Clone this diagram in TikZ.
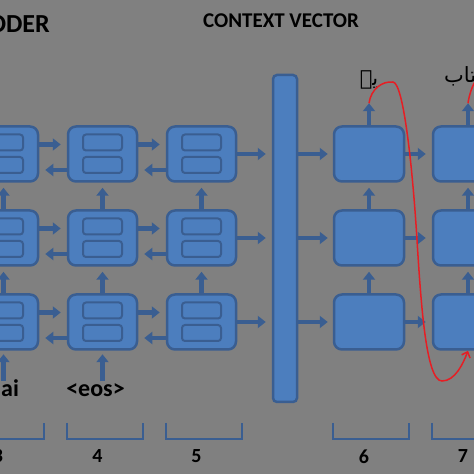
\documentclass[tikz,border=0pt]{standalone}
\usepackage{fontspec}
\setmainfont{Carlito}
\newfontfamily\arabicfont[Script=Arabic]{DejaVu Sans}
\TeXXeTstate=1
\usetikzlibrary{arrows.meta,calc}
\definecolor{bggray}{RGB}{128,128,128}
\definecolor{cellblue}{RGB}{76,126,190}
\definecolor{edgeblue}{RGB}{58,94,145}
\definecolor{linkred}{RGB}{230,30,36}

\begin{document}
\begin{tikzpicture}[x=1pt,y=1pt]
    \tikzstyle{cell}=[rectangle,rounded corners=8pt,draw=edgeblue,line width=2.5pt,fill=cellblue,minimum width=69pt,minimum height=55pt,inner sep=0pt]
    \tikzstyle{slot}=[rectangle,rounded corners=3pt,draw=edgeblue,line width=2pt,fill=cellblue,minimum width=39pt,minimum height=16pt,inner sep=0pt]
    \tikzstyle{flow}=[draw=edgeblue,line width=4.5pt,-{Triangle[width=12pt,length=8pt]}]
    \tikzstyle{link}=[draw=linkred,line width=1.5pt]
    \tikzstyle{brace}=[draw=edgeblue,line width=1.5pt]
    \tikzstyle{word}=[font=\bfseries\fontsize{24}{28}\selectfont,inner sep=0pt]
    \tikzstyle{idx}=[font=\bfseries\fontsize{20}{24}\selectfont,inner sep=0pt]
    \tikzstyle{urdu}=[font=\arabicfont\fontsize{21}{25}\selectfont,inner sep=0pt]

    \useasboundingbox (0,0) rectangle (474,474);
    \fill[bggray] (0,0) rectangle (474,474);

    \node[font=\bfseries\fontsize{26}{30}\selectfont,inner sep=0pt,anchor=east] (enc) at (50,450) {ENCODER};
    \node[font=\bfseries\fontsize{21}{25}\selectfont,inner sep=0pt] (ctx) at (281,453.5) {CONTEXT VECTOR};

    % encoder
    \foreach \c/\x in {3/3.5,4/102.5,5/201.5}
      \foreach \r/\y in {1/320,2/236,3/152} {
        \node[cell] (e\c\r) at (\x,\y) {};
        \node[slot] at (\x,\y+11.5) {};
        \node[slot] at (\x,\y-11) {};
      }
    % decoder
    \foreach \c/\x in {6/369,7/468}
      \foreach \r/\y in {1/320,2/236,3/152}
        \node[cell,minimum width=70pt] (d\c\r) at (\x,\y) {};

    \node[cell,rounded corners=4pt,minimum width=24pt,minimum height=327pt] (cv) at (285,235.5) {};

    \foreach \a/\b in {3/4,4/5}
      \foreach \r in {1,2,3} {
        \draw[flow,shorten >=6pt] ([yshift=9.5pt]e\a\r.east) -- ([yshift=9.5pt]e\b\r.west);
        \draw[flow,shorten >=6pt] ([yshift=-16pt]e\b\r.west) -- ([yshift=-16pt]e\a\r.east);
      }
    \foreach \c in {3,4,5} {
      \draw[flow,shorten >=5pt] (e\c3.north) -- (e\c2.south);
      \draw[flow,shorten >=5pt] (e\c2.north) -- (e\c1.south);
    }
    \foreach \c in {6,7} {
      \draw[flow,shorten >=5pt] (d\c3.north) -- (d\c2.south);
      \draw[flow,shorten >=5pt] (d\c2.north) -- (d\c1.south);
      \coordinate (o\c) at ($(d\c1.north)+(0,22)$);
      \draw[flow] (d\c1.north) -- (o\c);
    }
    \foreach \r in {1,2,3} {
      \draw[flow,shorten >=6pt] (e5\r.east) -- (e5\r.east -| cv.west);
      \draw[flow,shorten >=5pt] (d6\r.west -| cv.east) -- (d6\r.west);
      \draw[flow,shorten >=6pt] (d6\r.east) -- (d7\r.west);
    }

    % inputs
    \coordinate (i3) at ($(e33.south)+(0,-30.5)$);
    \coordinate (i4) at ($(e43.south)+(0,-30.5)$);
    \draw[flow,shorten >=3.5pt] (i3) -- (e33.south);
    \draw[flow,shorten >=3.5pt] (i4) -- (e43.south);
    \node[word,anchor=base west] (ai) at (1,77) {ai};
    \node[word,anchor=base] (eos) at (95.5,77) {<eos>};

    % outputs
    \node[urdu] (w6) at (369,394) {\beginR یہ\endR};
    \node[urdu,anchor=west] (w7) at (444,398) {\beginR کتاب\endR};
    \draw[link,-{Straight Barb[length=5pt,width=9pt]}] (o6) .. controls (371,385) and (382,393) .. (393,392)
      .. controls (404,391) and (413,300) .. (417,234)
      .. controls (421,170) and (426,93) .. (442,93)
      .. controls (455,93) and (463,110) .. (d73.south);
    \draw[link] (o7) .. controls (470,385) and (478,405) .. (492,405);

    % steps
    \coordinate (top) at (0,51);
    \foreach \c in {3,4,5}
      \draw[brace] (e\c3.west |- top) -- ++(0,-16) -- ++(76,0) -- ++(0,16);
    \foreach \c in {6,7}
      \draw[brace] (d\c3.west |- top) -- ++(0,-16) -- ++(76,0) -- ++(0,16);
    \foreach \c/\x in {3/-2,4/97.5,5/196.5,6/364,7/463}
      \node[idx] (n\c) at (\x,17.5) {\c};
\end{tikzpicture}
\end{document}
